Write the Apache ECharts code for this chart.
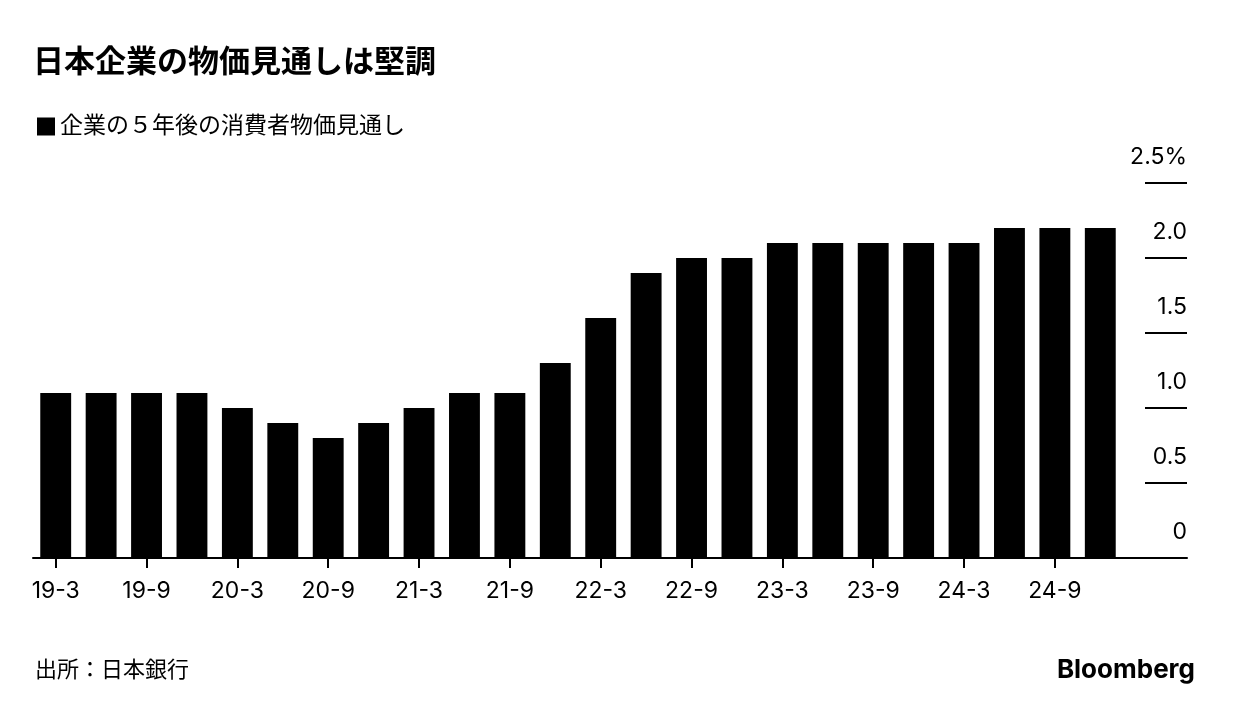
<!DOCTYPE html>
<html>
<head>
<meta charset="utf-8">
<script src="https://cdn.jsdelivr.net/npm/echarts@6/dist/echarts.min.js"></script>
<style>html,body{margin:0;background:#fff}#c{width:1240px;height:728px}</style>
</head>
<body>
<div id="c"></div>
<script>
// 四半期ラベル（19-3 ～ 24-12）
const categories = ['19-3','19-6','19-9','19-12','20-3','20-6','20-9','20-12',
  '21-3','21-6','21-9','21-12','22-3','22-6','22-9','22-12',
  '23-3','23-6','23-9','23-12','24-3','24-6','24-9','24-12'];
// 企業の5年後の消費者物価見通し（%）
const values = [1.1,1.1,1.1,1.1,1.0,0.9,0.8,0.9,1.0,1.1,1.1,1.3,1.6,1.9,2.0,2.0,
  2.1,2.1,2.1,2.1,2.1,2.2,2.2,2.2];
const yTicks = [0, 0.5, 1.0, 1.5, 2.0, 2.5];

const font = "Inter, 'Noto Sans CJK JP', sans-serif";
const chart = echarts.init(document.getElementById('c'));
chart.setOption({
  animation: false,
  textStyle: { fontFamily: font },
  title: [
    { text: '日本企業の物価見通しは堅調', left: 28, top: 42,
      textStyle: { fontSize: 31, fontWeight: 'bold', color: '#000', fontFamily: font } },
    { text: '出所：日本銀行', left: 30, top: 654,
      textStyle: { fontSize: 22, fontWeight: 'normal', color: '#000', fontFamily: font } },
    { text: 'Bloomberg', right: 40, top: 652,
      textStyle: { fontSize: 26, fontWeight: 'bold', color: '#000', fontFamily: font } }
  ],
  legend: {
    left: 32, top: 110, itemWidth: 18, itemHeight: 18, icon: 'rect', itemGap: 12,
    textStyle: { fontSize: 23, color: '#000', fontFamily: font }
  },
  grid: [
    { left: 33, right: 117, top: 183, height: 375 },
    { left: 1118, right: 53, top: 183, height: 375 },
    { left: 1145, right: 53, top: 183, height: 375 }
  ],
  xAxis: [
    { type: 'category', gridIndex: 0, data: categories,
      axisLine: { lineStyle: { color: '#000', width: 2 } },
      axisTick: { show: true, alignWithLabel: true, length: 10, interval: 1,
        lineStyle: { color: '#000', width: 2 } },
      axisLabel: { interval: 1, color: '#000', fontSize: 23, margin: 22, fontFamily: font } },
    { type: 'value', gridIndex: 1, axisLine: { show: true, lineStyle: { color: '#000', width: 2 } },
      axisTick: { show: false }, axisLabel: { show: false }, splitLine: { show: false } },
    { type: 'value', gridIndex: 2, show: false }
  ],
  yAxis: [
    { type: 'value', gridIndex: 0, min: 0, max: 2.5, show: false },
    { type: 'value', gridIndex: 1, show: false },
    { type: 'value', gridIndex: 2, min: 0, max: 2.5, interval: 0.5, position: 'right',
      axisLine: { show: false }, axisTick: { show: false },
      splitLine: { lineStyle: { color: '#000', width: 2 } },
      axisLabel: { inside: true, margin: 0, align: 'right', verticalAlign: 'bottom',
        color: '#000', fontSize: 23, fontFamily: font, padding: [0, 0, 14, 0],
        formatter: (v) => v === 0 ? '0' : (v === 2.5 ? '2.5%' : v.toFixed(1)) } }
  ],
  series: [{
    name: '企業の５年後の消費者物価見通し', type: 'bar',
    xAxisIndex: 0, yAxisIndex: 0, data: values,
    barCategoryGap: '32%', itemStyle: { color: '#000' }
  }]
});
</script>
</body>
</html>
